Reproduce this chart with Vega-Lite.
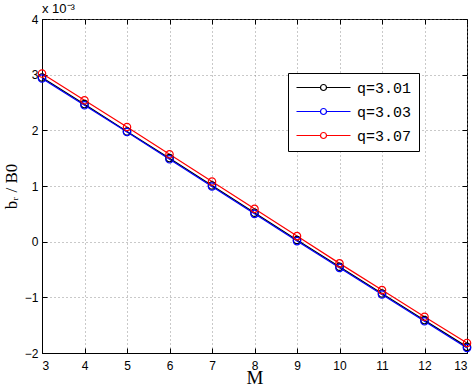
{
  "$schema": "https://vega.github.io/schema/vega-lite/v6.json",
  "width": 425,
  "height": 334,
  "autosize": {"type": "none"},
  "padding": {"left": 42, "top": 19, "right": 7, "bottom": 34},
  "background": "white",
  "title": {"text": "x 10⁻³", "anchor": "start", "frame": "group", "font": "Liberation Sans", "fontSize": 13, "fontWeight": "normal", "offset": -3, "color": "#000"},
  "config": {
    "view": {"stroke": "#000", "strokeWidth": 1},
    "axis": {
      "domainColor": "#000", "tickColor": "#000", "labelColor": "#000",
      "labelFont": "Liberation Sans", "labelFontSize": 12,
      "gridColor": "#888", "gridDash": [1, 3], "gridOpacity": 0.9,
      "titleFont": "Liberation Serif", "titleFontWeight": "normal", "titleColor": "#000"
    }
  },
  "data": {"values": [
    {"M": 3, "q": "3.01", "b": 0.00295}, {"M": 4, "q": "3.01", "b": 0.00247}, {"M": 5, "q": "3.01", "b": 0.00198}, {"M": 6, "q": "3.01", "b": 0.00150}, {"M": 7, "q": "3.01", "b": 0.00101}, {"M": 8, "q": "3.01", "b": 0.00052}, {"M": 9, "q": "3.01", "b": 0.00003}, {"M": 10, "q": "3.01", "b": -0.00045}, {"M": 11, "q": "3.01", "b": -0.00093}, {"M": 12, "q": "3.01", "b": -0.00141}, {"M": 13, "q": "3.01", "b": -0.00189},
    {"M": 3, "q": "3.03", "b": 0.00293}, {"M": 4, "q": "3.03", "b": 0.00245}, {"M": 5, "q": "3.03", "b": 0.00197}, {"M": 6, "q": "3.03", "b": 0.00148}, {"M": 7, "q": "3.03", "b": 0.00099}, {"M": 8, "q": "3.03", "b": 0.00050}, {"M": 9, "q": "3.03", "b": 0.00001}, {"M": 10, "q": "3.03", "b": -0.00047}, {"M": 11, "q": "3.03", "b": -0.00095}, {"M": 12, "q": "3.03", "b": -0.00143}, {"M": 13, "q": "3.03", "b": -0.00191},
    {"M": 3, "q": "3.07", "b": 0.00302}, {"M": 4, "q": "3.07", "b": 0.00254}, {"M": 5, "q": "3.07", "b": 0.00206}, {"M": 6, "q": "3.07", "b": 0.00157}, {"M": 7, "q": "3.07", "b": 0.00108}, {"M": 8, "q": "3.07", "b": 0.00059}, {"M": 9, "q": "3.07", "b": 0.00010}, {"M": 10, "q": "3.07", "b": -0.00039}, {"M": 11, "q": "3.07", "b": -0.00087}, {"M": 12, "q": "3.07", "b": -0.00135}, {"M": 13, "q": "3.07", "b": -0.00182}
  ]},
  "layer": [
    {
      "mark": {"type": "line", "strokeWidth": 1.2, "point": {"filled": false, "size": 55, "strokeWidth": 1.2}},
      "encoding": {
        "x": {"field": "M", "type": "quantitative", "scale": {"domain": [3, 13], "nice": false},
          "axis": {"values": [3,4,5,6,7,8,9,10,11,12,13], "title": "M", "titleFontSize": 19, "titlePadding": -3, "tickSize": -5, "labelPadding": 12, "grid": true}},
        "y": {"field": "b", "type": "quantitative", "scale": {"domain": [-0.002, 0.004], "nice": false, "zero": false},
          "axis": {"values": [-0.002,-0.001,0,0.001,0.002,0.003,0.004], "labelExpr": "format(datum.value*1000, 'd')", "title": "bᵣ / B0", "titleFontSize": 17, "titlePadding": 4, "tickSize": -5, "labelPadding": 9, "grid": true}},
        "color": {"field": "q", "type": "nominal",
          "scale": {"domain": ["3.01", "3.03", "3.07"], "range": ["#000000", "#0000ff", "#ff0000"]},
          "legend": {
            "orient": "none", "legendX": 246, "legendY": 54, "title": null,
            "labelExpr": "'q=' + datum.label",
            "labelFont": "Liberation Mono", "labelFontSize": 15, "labelColor": "#000",
            "symbolType": "M-4.5,0H-0.5A0.5,0.5 0 1,1 0.5,0A0.5,0.5 0 1,1 -0.5,0M0.5,0H4.5",
            "symbolSize": 144, "symbolStrokeWidth": 1.2, "symbolFillColor": "transparent",
            "symbolOffset": 21, "labelOffset": 26,
            "strokeColor": "#000", "fillColor": "white", "padding": 7, "rowPadding": 8
          }}
      }
    },
    {
      "mark": {"type": "point", "opacity": 0},
      "encoding": {
        "x": {"field": "M", "type": "quantitative", "axis": {"orient": "top", "values": [3,4,5,6,7,8,9,10,11,12,13], "labels": false, "title": null, "tickSize": -5, "grid": false, "domain": false}},
        "y": {"field": "b", "type": "quantitative", "axis": {"orient": "right", "values": [-0.002,-0.001,0,0.001,0.002,0.003,0.004], "labels": false, "title": null, "tickSize": -5, "grid": false, "domain": false}}
      }
    }
  ],
  "resolve": {"axis": {"x": "independent", "y": "independent"}}
}
